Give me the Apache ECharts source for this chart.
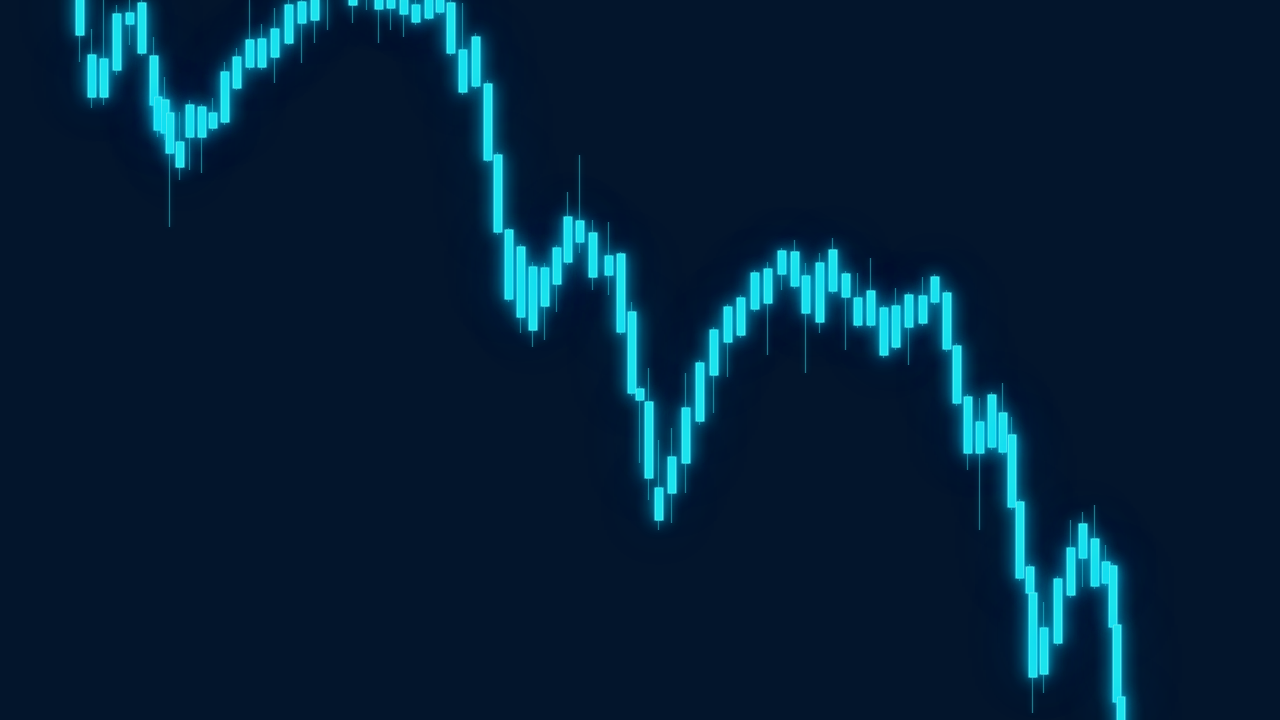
<!DOCTYPE html>
<html>
<head>
<meta charset="utf-8">
<script src="https://cdn.jsdelivr.net/npm/echarts@6/dist/echarts.min.js"></script>
<style>
html,body{margin:0;padding:0;background:#03152c;}
#chart{width:1280px;height:720px;}
</style>
</head>
<body>
<div id="chart"></div>
<script>
// time positions of each session
var times = [80,92,104,117,130,142,154,158,165,170,180,190,202,213,225,237,250,262,275,289,302,315,328,341,353,367,379,391,404,416,429,440,451,463,476,488,498,509,521,533,545,557,568,580,593,609,621,632,640,649,659,672,686,700,714,728,741,755,768,782,795,806,820,833,846,858,871,884,896,909,923,935,947,957,968,980,992,1003,1012,1020,1030,1033,1044,1058,1071,1083,1095,1106,1113,1117,1121];
var opens = [732,665,623,650,696,717,664,623,620,607,578,583,613,592,598,632,653,681,663,677,697,700,728,750,730,725,728,712,725,715,702,708,717,670,634,636,565,490,473,453,414,436,458,499,487,445,466,408,331,318,232,227,257,299,345,378,385,411,417,446,468,444,398,429,446,422,395,412,373,393,424,418,427,374,323,267,273,307,285,218,153,127,46,77,125,162,181,137,154,95,23];
var closes = [685,623,661,706,707,667,615,590,587,567,553,615,583,607,648,663,680,653,691,715,718,725,745,730,715,740,711,730,706,698,725,728,667,628,683,560,488,421,403,390,452,472,503,478,443,464,388,327,320,242,200,263,312,357,390,413,422,447,451,469,434,407,457,470,423,395,429,365,414,425,397,443,371,317,267,298,325,268,213,142,127,43,92,141,172,196,134,158,93,18,-20];
var lows = [658,612,615,645,675,664,610,583,580,493,540,550,547,589,595,630,650,650,637,675,657,677,690,723,697,710,677,690,683,695,700,705,664,625,631,558,485,418,387,373,380,408,455,467,430,425,385,324,257,220,190,197,227,295,307,343,382,408,365,430,431,347,387,426,370,392,392,362,370,355,394,415,368,314,250,190,270,265,210,139,124,7,27,74,122,133,131,134,90,15,-30];
var highs = [740,691,725,715,720,728,683,625,643,620,608,620,616,622,658,672,720,696,712,728,728,730,750,755,735,745,732,735,730,725,730,732,720,717,687,640,568,492,476,458,457,475,528,565,500,498,468,418,334,352,280,292,347,360,393,416,425,450,458,472,480,457,467,482,449,447,462,415,432,428,443,446,430,377,326,322,328,337,303,221,156,130,118,144,200,208,215,175,157,98,26];

var full = [], bodies = [];
for (var i = 0; i < times.length; i++) {
  full.push([times[i], opens[i], closes[i], lows[i], highs[i]]);
  var lo = Math.min(opens[i], closes[i]), hi = Math.max(opens[i], closes[i]);
  bodies.push([times[i], opens[i], closes[i], lo, hi]);
}

var chart = echarts.init(document.getElementById('chart'));
function st(c, b, bw, blur, sc) {
  return {color: c, color0: c, borderColor: b, borderColor0: b, borderWidth: bw,
          shadowBlur: blur, shadowColor: sc};
}
chart.setOption({
  backgroundColor: '#03152c',
  animation: false,
  grid: {left: 0, right: 0, top: 0, bottom: 0},
  xAxis: {type: 'value', min: 0, max: 1280, show: false},
  yAxis: {type: 'value', min: 0, max: 720, show: false},
  series: [
    {type: 'candlestick', data: bodies, barWidth: 10, z: 1,
     encode: {x: 0, y: [1, 2, 3, 4]},
     itemStyle: st('rgba(30,130,185,0.5)', 'rgba(30,130,185,0.0)', 0, 55, 'rgba(20,120,190,0.9)')},
    {type: 'candlestick', data: full, barWidth: 9, z: 2,
     encode: {x: 0, y: [1, 2, 3, 4]},
     itemStyle: st('rgba(70,190,205,0.55)', 'rgba(70,190,205,0.55)', 1.3, 6, 'rgba(0,200,230,0.6)')},
    {type: 'candlestick', data: bodies, barWidth: 8, z: 3,
     encode: {x: 0, y: [1, 2, 3, 4]},
     itemStyle: st('#1ee4ec', '#49eef4', 1, 18, 'rgba(0,215,255,0.95)')}
  ]
});
</script>
</body>
</html>
